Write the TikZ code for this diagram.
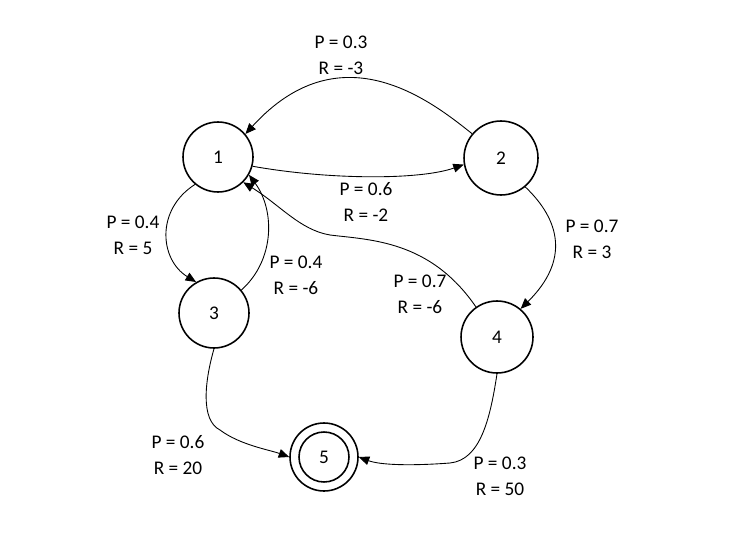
\documentclass[tikz,border=0pt]{standalone}
\usepackage{fontspec}
\setmainfont{Carlito}
\usetikzlibrary{arrows.meta}
\begin{document}
\begin{tikzpicture}[x=0.02cm,y=-0.02cm,
  st/.style={circle,draw,line width=0.9pt,minimum size=70\pgflinewidth,inner sep=0pt,font=\fontsize{11}{13}\selectfont},
  lbl/.style={align=center,font=\fontsize{11}{15}\selectfont},
  edge/.style={-{Triangle[length=6pt,width=5pt]},line width=0.5pt}]
\useasboundingbox (0,0) rectangle (732,547);
\node[st,minimum size=1.4cm] (n1) at (218,157) {1};
\node[st,minimum size=1.48cm] (n2) at (501,158) {2};
\node[st,minimum size=1.4cm] (n3) at (214,313) {3};
\node[st,minimum size=1.44cm] (n4) at (497,337) {4};
\node[st,minimum size=1.36cm] (n5) at (324,457) {};
\node[st,minimum size=1.0cm] (n5i) at (324,457) {5};
\draw[edge] (n2.140) .. controls (430,100) and (340,30) .. (n1.40);
\draw[edge] (n1.-15) .. controls (330,180) and (420,180) .. (n2.190);
\draw[edge] (n1.-130) .. controls (155,210) and (160,260) .. (n3.120);
\draw[edge] (n3.40) .. controls (275,260) and (275,210) .. (n1.-30);
\draw[edge] (n4.125) .. controls (430,240) and (370,240) .. (330,235) .. controls (300,230) and (280,205) .. (n1.-45);
\draw[edge] (n2.-50) .. controls (560,220) and (570,260) .. (n4.50);
\draw[edge] (n3.-90) .. controls (205,380) and (200,420) .. (220,430) .. controls (240,445) and (270,450) .. (n5.180);
\draw[edge] (n4.-90) .. controls (490,420) and (480,460) .. (450,463) .. controls (410,466) and (380,465) .. (n5.0);
\node[lbl] (l1) at (341,55) {P = 0.3\\R = -3};
\node[lbl] (l2) at (366,202) {P = 0.6\\R = -2};
\node[lbl] (l3) at (133,235) {P = 0.4\\R = 5};
\node[lbl] (l4) at (296,275) {P = 0.4\\R = -6};
\node[lbl] (l5) at (420,294) {P = 0.7\\R = -6};
\node[lbl] (l6) at (592,239) {P = 0.7\\R = 3};
\node[lbl] (l7) at (178,455) {P = 0.6\\R = 20};
\node[lbl] (l8) at (500,476) {P = 0.3\\R = 50};
\end{tikzpicture}
\end{document}
